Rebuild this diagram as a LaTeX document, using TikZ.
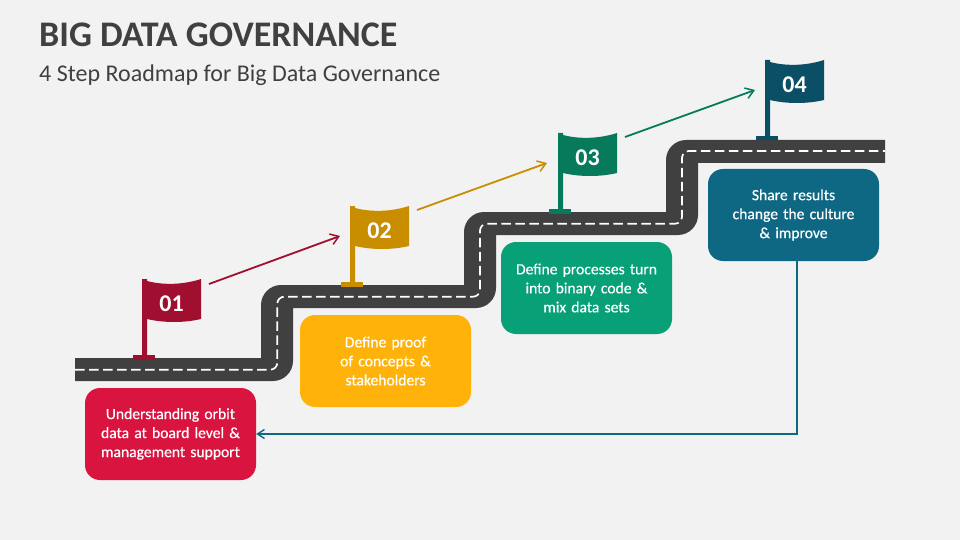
\documentclass[tikz,border=0pt]{standalone}
\usepackage{fontspec}
\setmainfont{Carlito}
\newfontfamily\boxfont[FakeBold=0.5]{Carlito}
\definecolor{pagegrey}{HTML}{F2F2F2}
\definecolor{roadgrey}{HTML}{404040}
\definecolor{redflag}{HTML}{A00F30}
\definecolor{goldflag}{HTML}{C98D00}
\definecolor{greenflag}{HTML}{067A5B}
\definecolor{tealflag}{HTML}{0A4F66}
\definecolor{redbox}{HTML}{D9143F}
\definecolor{goldbox}{HTML}{FFB30A}
\definecolor{greenbox}{HTML}{07A077}
\definecolor{tealbox}{HTML}{0E6884}
\usetikzlibrary{arrows.meta}
\tikzset{
  stepbox/.style={fill=#1,rounded corners=15pt,minimum width=171pt,minimum height=92pt,
    text width=160pt,align=center,text=white,font=\boxfont\fontsize{15.6}{19}\selectfont,inner sep=0pt},
  steparrow/.style={draw=#1,line width=1.8pt,-{Straight Barb[length=8pt,width=11pt,line width=1.5pt]}},
  pics/roadflag/.style 2 args={code={
    \fill[#1] (0,0) -- (5,0) -- (5,2) .. controls (22,6.5) and (42,5.5) .. (59,0) -- (59,40)
      .. controls (42,44) and (22,44) .. (5,40) -- (5,79) -- (0,79) -- cycle;
    \fill[#1] (-9,76) rectangle (13,80.5);
    \node[text=white,font=\fontsize{24}{24}\selectfont\bfseries] at (29.5,24.5) {#2};
  }}
}
\begin{document}
\begin{tikzpicture}[x=1pt,y=-1pt]
  \useasboundingbox[fill=pagegrey] (0,0) rectangle (960,540);
  \node[anchor=base west,inner sep=0pt,text=roadgrey,font=\fontsize{36}{36}\selectfont\bfseries] (title) at (39,47) {BIG DATA GOVERNANCE};
  \node[anchor=base west,inner sep=0pt,text=roadgrey,font=\fontsize{24}{24}\selectfont] (subtitle) at (39,82) {4 Step Roadmap for Big Data Governance};
  % road
  \fill[roadgrey] (75,358) -- (261,358) -- (261,305) .. controls (261,294) and (270,285) .. (281,285)
    -- (464,285) -- (464,232) .. controls (464,221) and (473,212) .. (484,212)
    -- (666,212) -- (666,160) .. controls (666,149) and (675,140) .. (686,140)
    -- (885,140) -- (885,163) -- (698,163) -- (698,215) .. controls (698,226) and (689,235) .. (678,235)
    -- (496,235) -- (496,288) .. controls (496,299) and (487,308) .. (476,308)
    -- (293,308) -- (293,361) .. controls (293,372) and (284,381) .. (273,381) -- (75,381) -- cycle;
  \draw[white,line width=1.7pt,dash pattern=on 9.5pt off 4.5pt,rounded corners=7pt] (75,369.7) -- (277.3,369.7) -- (277.3,296.7)
    -- (480,296.7) -- (480,223.7) -- (682,223.7) -- (682,151) -- (885,151);
  % flags
  \path (142,279) pic {roadflag={redflag}{01}};
  \path (350,206) pic {roadflag={goldflag}{02}};
  \path (558,133) pic {roadflag={greenflag}{03}};
  \path (765,60) pic {roadflag={tealflag}{04}};
  % boxes
  \node[stepbox=redbox] (understand) at (170.5,434) {Understanding orbit\\data at board level \&\\management support};
  \node[stepbox=goldbox] (proof) at (385.5,361) {Define proof\\of concepts \&\\stakeholders};
  \node[stepbox=greenbox] (process) at (586.5,288) {Define processes turn\\into binary code \&\\mix data sets};
  \node[stepbox=tealbox] (share) at (793.5,215) {Share results\\change the culture\\\& improve};
  % arrows
  \coordinate (a1) at (209,284);
  \coordinate (b1) at (340,236);
  \coordinate (a2) at (417,210);
  \coordinate (b2) at (547,163);
  \coordinate (a3) at (625,137);
  \coordinate (b3) at (755,90);
  \coordinate (a4) at (797,261);
  \draw[steparrow=redflag] (a1) -- (b1);
  \draw[steparrow=goldflag] (a2) -- (b2);
  \draw[steparrow=greenflag] (a3) -- (b3);
  \draw[draw=tealbox,line width=1.5pt,-{Straight Barb[length=7pt,width=9pt,line width=1.4pt]}] (a4) |- (understand.east);
\end{tikzpicture}
\end{document}
